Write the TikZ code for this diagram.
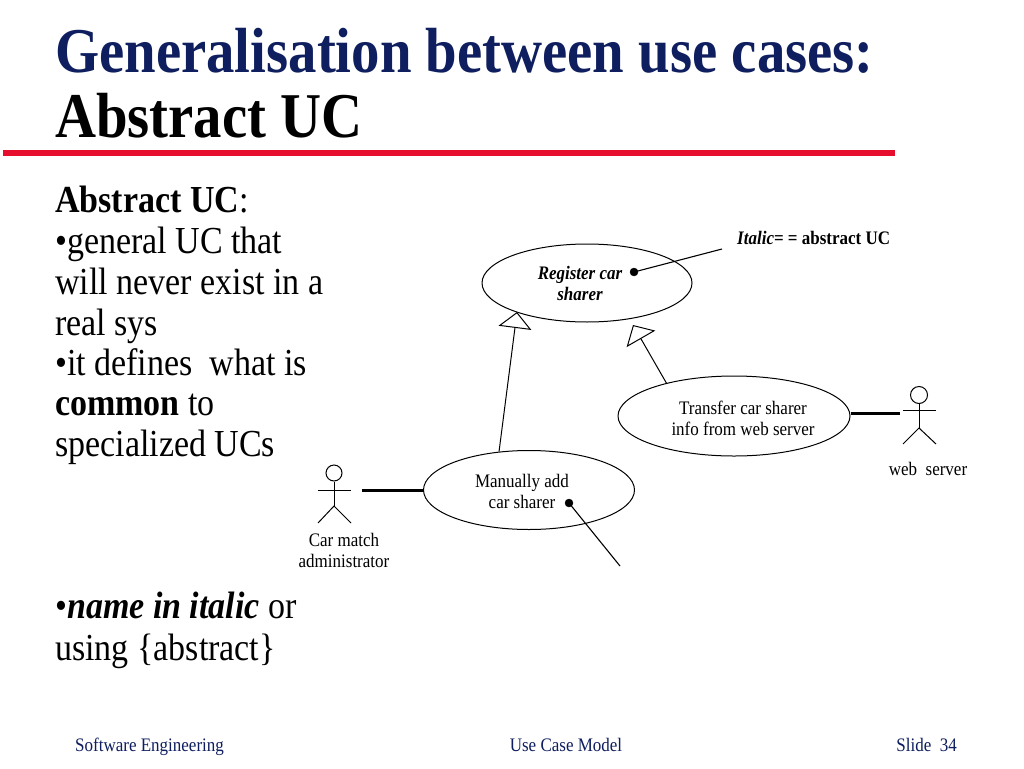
\documentclass[tikz,border=0pt]{standalone}
\usepackage{fontspec}
\setmainfont{Liberation Serif}[FakeStretch=0.89]
\usetikzlibrary{arrows.meta,shapes.geometric}
\definecolor{navy}{RGB}{14,30,94}
\definecolor{slidered}{RGB}{230,16,46}
\begin{document}
\begin{tikzpicture}[x=1pt,y=-1pt,
  body/.style={anchor=base west,inner sep=0pt,font=\fontsize{38.2}{40}\selectfont},
  small/.style={inner sep=0pt,font=\fontsize{19.1}{21}\selectfont,align=center},
  uc/.style={draw,ellipse,line width=1pt,inner sep=0pt},
  assoc/.style={line width=3pt},
  thin/.style={line width=1.1pt},
  gen/.style={line width=1pt,-{Triangle[open,length=16pt,width=33pt,line width=1pt]}},
  dotc/.style={circle,draw,fill=black,inner sep=0pt,minimum size=8pt},
  stick/.style={line width=1pt}]
\useasboundingbox (0,0) rectangle (1024,768);
\fill[white] (0,0) rectangle (1024,768);
% title
\node[anchor=base west,inner sep=0pt,text=navy,font=\fontsize{63.8}{64}\selectfont\bfseries] (t1) at (55,72) {Generalisation between use cases:};
\node[anchor=base west,inner sep=0pt,font=\fontsize{63.8}{64}\selectfont\bfseries] (t2) at (55,137) {Abstract UC};
\fill[slidered] (3,149.5) rectangle (895,155.5);
% left text
\node[body] (l1) at (55,212) {\textbf{Abstract UC}:};
\node[body] (l2) at (55,253) {•general UC that};
\node[body] (l3) at (55,294) {will never exist in a};
\node[body] (l4) at (55,335) {real sys};
\node[body] (l5) at (55,375) {•it defines\ \ what is};
\node[body] (l6) at (55,415) {\textbf{common} to};
\node[body] (l7) at (55,456) {specialized UCs};
\node[body] (l8) at (55,618) {•\textbf{\textit{name in italic}} or};
\node[body] (l9) at (55,660) {using \{abstract\}};
% use cases
\node[uc,minimum width=210pt,minimum height=78pt] (reg) at (587,283) {};
\node[small,font=\fontsize{19.1}{21}\selectfont\bfseries\itshape] (regt) at (580,283) {Register car\\sharer};
\node[uc,minimum width=232pt,minimum height=80pt] (trans) at (734,416) {};
\node[small] (transt) at (743,418) {Transfer car sharer\\info from web server};
\node[uc,minimum width=211pt,minimum height=79pt] (man) at (529,490) {};
\node[small] (mant) at (522,491) {Manually add\\car sharer};
% notes
\node[dotc] (d1) at (634,272) {};
\coordinate (n1) at (722,249);
\draw[thin] (d1.center) -- (n1);
\node[anchor=base west,inner sep=0pt,font=\fontsize{19.1}{21}\selectfont\bfseries] (note) at (737,244) {\textit{Italic}= = abstract UC};
\node[dotc] (d2) at (569,503) {};
\coordinate (n2) at (620,566);
\draw[thin] (d2.center) -- (n2);
% generalisations
\coordinate (g1) at (517,312);
\coordinate (g2) at (633,325);
\draw[gen] (man.128) -- (g1);
\draw[gen] (trans.154) -- (g2);
% actor: car match administrator
\node[circle,draw,line width=1pt,minimum size=16pt,inner sep=0pt] (a1h) at (334,473) {};
\coordinate (a1n) at (334,506);
\draw[stick] (a1h.south) -- (a1n);
\draw[stick] (318,490) -- (351,490);
\draw[stick] (318,523) -- (a1n) -- (351,523);
\node[small] (a1l) at (344,550) {Car match\\administrator};
\coordinate (a1c) at (362,490);
\draw[assoc] (a1c) -- (man.west);
% actor: web server
\node[circle,draw,line width=1pt,minimum size=17pt,inner sep=0pt] (a2h) at (919,395) {};
\coordinate (a2n) at (919,428);
\draw[stick] (a2h.south) -- (a2n);
\draw[stick] (903,410) -- (936,410);
\draw[stick] (903,444) -- (a2n) -- (936,444);
\node[small] (a2l) at (928,469) {web\ \ server};
\coordinate (a2c) at (900,413);
\draw[assoc] (trans.east |- a2c) -- (a2c);
% footer
\node[anchor=base west,inner sep=0pt,text=navy,font=\fontsize{19.1}{21}\selectfont] (f1) at (75,751) {Software Engineering};
\node[anchor=base,inner sep=0pt,text=navy,font=\fontsize{19.1}{21}\selectfont] (f2) at (566,751) {Use Case Model};
\node[anchor=base east,inner sep=0pt,text=navy,font=\fontsize{19.1}{21}\selectfont] (f3) at (957,751) {Slide\ \ 34};
\end{tikzpicture}
\end{document}
